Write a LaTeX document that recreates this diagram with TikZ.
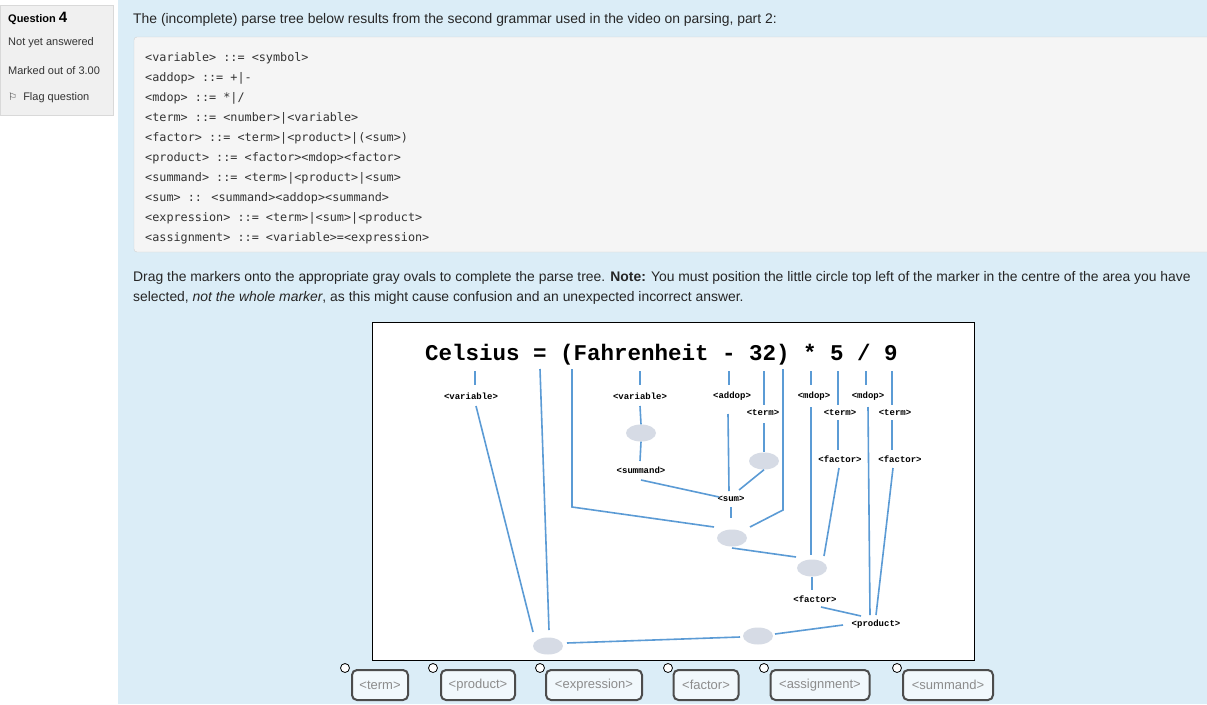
\documentclass[tikz,border=0pt]{standalone}
\usetikzlibrary{shapes.geometric}
\usepackage{fontspec}
\setmainfont{Liberation Sans}
\newfontfamily\codefont{DejaVu Sans Mono}
\newfontfamily\cour{Liberation Mono}
\newfontfamily\dejav{DejaVu Sans}
\definecolor{panel}{RGB}{219,237,247}
\definecolor{codebg}{RGB}{245,245,245}
\definecolor{tl}{RGB}{91,155,213}
\definecolor{ov}{RGB}{214,219,229}
\begin{document}
\begin{tikzpicture}[x=1pt,y=-1pt,
  code/.style={anchor=west,inner sep=0,font=\codefont\fontsize{11.8}{12}\selectfont,text=black!80},
  lbl/.style={inner sep=0,font=\cour\bfseries\fontsize{9}{9}\selectfont},
  oval/.style={ellipse,fill=ov,minimum width=30,minimum height=17,inner sep=0},
  tline/.style={draw=tl,line width=1.6pt},
  mk/.style={draw=black!70,line width=2pt,rounded corners=5,fill=panel!40,minimum height=30,inner sep=1,font=\fontsize{13}{14}\selectfont,text=black!45},
  pin/.style={circle,draw=black,fill=white,minimum size=9,inner sep=0,line width=0.8pt},
  body/.style={anchor=west,inner sep=0,font=\fontsize{13.9}{14}\selectfont,text=black!85}]
\useasboundingbox (0,0) rectangle (1207,704);
\fill[white] (0,0) rectangle (1207,704);
% left panel
\draw[fill=black!6,draw=black!15] (0,5) rectangle (113,115);
\node[anchor=west,inner sep=0,font=\fontsize{11}{12}\selectfont\bfseries] (q) at (8,18) {Question \fontsize{15}{15}\selectfont 4};
\node[anchor=west,inner sep=0,font=\fontsize{11}{12}\selectfont,text=black!80] (na) at (8,43) {Not yet answered};
\node[anchor=west,inner sep=0,font=\fontsize{11}{12}\selectfont,text=black!80] (mo) at (8,71) {Marked out of 3.00};
\node[anchor=west,inner sep=0,font=\fontsize{11}{12}\selectfont,text=black!80] (fq) at (8,98) {{\dejav\fontsize{10}{10}\selectfont ⚐}\ \ Flag question};
% main panel
\fill[panel] (118,0) rectangle (1207,704);
\node[body] (t1) at (133,20) {The (incomplete) parse tree below results from the second grammar used in the video on parsing, part 2:};
\draw[fill=codebg,draw=black!18,rounded corners=3] (134,37) rectangle (1212,252);
\node[code] (c1) at (145,58) {<variable> ::= <symbol>};
\node[code] (c2) at (145,78) {<addop> ::= +|-};
\node[code] (c3) at (145,98) {<mdop> ::= *|/};
\node[code] (c4) at (145,118) {<term> ::= <number>|<variable>};
\node[code] (c5) at (145,138) {<factor> ::= <term>|<product>|(<sum>)};
\node[code] (c6) at (145,158) {<product> ::= <factor><mdop><factor>};
\node[code] (c7) at (145,178) {<summand> ::= <term>|<product>|<sum>};
\node[code] (c8) at (145,198) {<sum> :: <summand><addop><summand>};
\node[code] (c9) at (145,218) {<expression> ::= <term>|<sum>|<product>};
\node[code] (c10) at (145,238) {<assignment> ::= <variable>=<expression>};
\node[body] (p1) at (133,278) {Drag the markers onto the appropriate gray ovals to complete the parse tree. \textbf{Note:} You must position the little circle top left of the marker in the centre of the area you have};
\node[body] (p2) at (133,298) {selected, \textit{not the whole marker}, as this might cause confusion and an unexpected incorrect answer.};
% tree box
\draw[fill=white,draw=black,line width=0.8pt] (372,322) rectangle (974,660);
\node[inner sep=0,font=\cour\bfseries\fontsize{22.5}{24}\selectfont] (eq) at (661.5,355) {Celsius = (Fahrenheit - 32) * 5 / 9};
% labels
\node[lbl] (v1) at (471,396) {<variable>};
\node[lbl] (v2) at (640,396) {<variable>};
\node[lbl] (ad) at (732,396) {<addop>};
\node[lbl] (t1a) at (763,413) {<term>};
\node[lbl] (md1) at (814,396) {<mdop>};
\node[lbl] (md2) at (868,396) {<mdop>};
\node[lbl] (t2) at (840,413) {<term>};
\node[lbl] (t3) at (895,413) {<term>};
\node[lbl] (f1) at (840,459) {<factor>};
\node[lbl] (f2) at (900,459) {<factor>};
\node[lbl] (sm) at (641,470) {<summand>};
\node[lbl] (su) at (731,499) {<sum>};
\node[lbl] (f3) at (815,599) {<factor>};
\node[lbl] (pr) at (876,624) {<product>};
% ovals
\node[oval] (o1) at (641,433) {};
\node[oval] (o2) at (764,461) {};
\node[oval] (o3) at (732,538) {};
\node[oval] (o4) at (812,568) {};
\node[oval] (o5) at (758,636) {};
\node[oval] (o6) at (548,646) {};
% lines
\draw[tline] (475,371) -- (475,385);
\draw[tline] (476,406) -- (533,632);
\draw[tline] (540,369) -- (549,630);
\draw[tline] (572,369) -- (572,507) -- (714,527);
\draw[tline] (640,371) -- (640,385);
\draw[tline] (640,406) -- (o1.north);
\draw[tline] (o1.south) -- (640,461);
\draw[tline] (641,480) -- (719,497);
\draw[tline] (729,371) -- (729,385);
\draw[tline] (728,414) -- (729,491);
\draw[tline] (764,371) -- (764,405);
\draw[tline] (764,423) -- (o2.north);
\draw[tline] (o2.south) -- (739,490);
\draw[tline] (731,507) -- (731,518);
\draw[tline] (783,369) -- (783,510) -- (750,527);
\draw[tline] (732,548) -- (796,557);
\draw[tline] (811,371) -- (811,385);
\draw[tline] (811,407) -- (811,555);
\draw[tline] (838,371) -- (838,405);
\draw[tline] (838,420) -- (838,450);
\draw[tline] (839,468) -- (824,556);
\draw[tline] (866,371) -- (866,385);
\draw[tline] (868,407) -- (870,615);
\draw[tline] (892,371) -- (892,405);
\draw[tline] (892,420) -- (892,450);
\draw[tline] (893,468) -- (876,615);
\draw[tline] (o4.south) -- (812,590);
\draw[tline] (821,607) -- (861,616);
\draw[tline] (843,625) -- (775,634);
\draw[tline] (740,637) -- (567,643);
% markers
\node[mk,minimum width=56] (m1) at (380,685) {<term>};
\node[mk,minimum width=74] (m2) at (478,685) {<product>};
\node[mk,minimum width=96] (m3) at (594,685) {<expression>};
\node[mk,minimum width=65] (m4) at (706,685) {<factor>};
\node[mk,minimum width=99] (m5) at (820,685) {<assignment>};
\node[mk,minimum width=90] (m6) at (948,685) {<summand>};
\node[pin] (k1) at (345,668) {};
\node[pin] (k2) at (433,668) {};
\node[pin] (k3) at (540,668) {};
\node[pin] (k4) at (668,668) {};
\node[pin] (k5) at (764,668) {};
\node[pin] (k6) at (897,668) {};
\end{tikzpicture}
\end{document}
